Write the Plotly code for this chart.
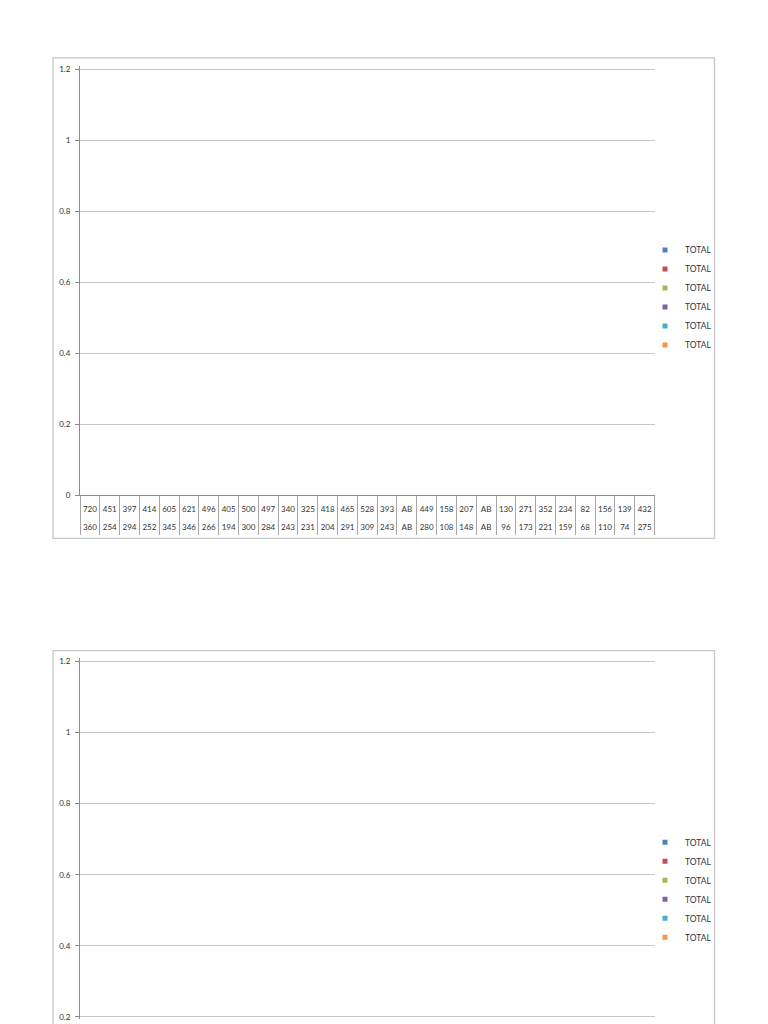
import plotly.graph_objects as go

# ---- data (the reference chart is an empty Excel chart: no plotted values) ----
row1_labels = ["720", "451", "397", "414", "605", "621", "496", "405", "500", "497",
               "340", "325", "418", "465", "528", "393", "AB", "449", "158", "207",
               "AB", "130", "271", "352", "234", "82", "156", "139", "432"]
row2_labels = ["360", "254", "294", "252", "345", "346", "266", "194", "300", "284",
               "243", "231", "204", "291", "309", "243", "AB", "280", "108", "148",
               "AB", "96", "173", "221", "159", "68", "110", "74", "275"]
series_names = ["TOTAL", "TOTAL", "TOTAL", "TOTAL", "TOTAL", "TOTAL"]
series_colors = ["#4F81BD", "#C0504D", "#9BBB59", "#8064A2", "#4BACC6", "#F79646"]
series_values = [
    [None] * len(row1_labels),
    [None] * len(row1_labels),
    [None] * len(row1_labels),
    [None] * len(row1_labels),
    [None] * len(row1_labels),
    [None] * len(row1_labels),
]
y_tickvals = [0, 0.2, 0.4, 0.6, 0.8, 1.0, 1.2]
y_ticktext = ["0", "0.2", "0.4", "0.6", "0.8", "1", "1.2"]

# ---- layout geometry ----
W, H = 768, 1024
VS = 0.9952                       # observed vertical compression of the photographed page
def px_x(v): return v / W
def px_y(v): return 1 - (v / VS) / H

positions = list(range(len(row1_labels)))
boundaries = [i - 0.5 for i in range(len(row1_labels) + 1)]

FONT = "Lato"
TXT = "#333333"
GRID = "#c6c6c6"
AXIS = "#8c8c8c"

fig = go.Figure()
for xa, ya, lg in [("x", "y", "legend"), ("x2", "y2", "legend2")]:
    for name, color, vals in zip(series_names, series_colors, series_values):
        fig.add_trace(go.Scatter(
            x=positions, y=vals, name=name, mode="markers",
            marker=dict(symbol="square", size=5, color=color),
            xaxis=xa, yaxis=ya, legend=lg, showlegend=True,
        ))
# carrier for the second row of category labels
fig.add_trace(go.Scatter(x=positions, y=[None] * len(positions), xaxis="x3", yaxis="y",
                         mode="markers", showlegend=False, hoverinfo="skip"))

Y0_TOP, Y12_TOP, Y12_BOT = 494.3, 67.3, 661.0   # reference pixel rows
PXU = (Y0_TOP - Y12_TOP) / 1.2                   # reference pixels per unit
TOP = 1.21
x_dom = [px_x(80), px_x(654.5)]
top_dom = [px_y(Y0_TOP), px_y(Y0_TOP - TOP * PXU)]
bot_dom = [0, px_y(Y12_BOT - (TOP - 1.2) * PXU)]
bot_low = 1.2 - (H * VS - Y12_BOT) / PXU

tickfont = dict(family=FONT, size=8, color=TXT)
yaxis_common = dict(
    tickmode="array", tickvals=y_tickvals, ticktext=y_ticktext,
    ticks="outside", ticklen=4, tickcolor=AXIS, tickwidth=1,
    showline=True, linecolor=AXIS, linewidth=1,
    showgrid=True, gridcolor=GRID, gridwidth=1, zeroline=False,
    ticklabelstandoff=3, tickfont=tickfont,
)

fig.update_layout(
    width=W, height=H, margin=dict(l=0, r=0, t=0, b=0),
    paper_bgcolor="white", plot_bgcolor="white",
    font=dict(family=FONT, color=TXT),
    xaxis=dict(
        domain=x_dom, anchor="y", range=[-0.5, len(row1_labels) - 0.5],
        tickmode="array", tickvals=positions, ticktext=row1_labels,
        ticks="", showline=True, linecolor=AXIS, linewidth=1,
        showgrid=False, zeroline=False, ticklabelstandoff=6,
        tickfont=tickfont,
        minor=dict(tickmode="array", tickvals=boundaries, ticks="outside",
                   ticklen=39, tickcolor="#a6a6a6", tickwidth=1, showgrid=False),
    ),
    xaxis3=dict(
        overlaying="x", anchor="y", side="bottom", matches="x",
        tickmode="array", tickvals=positions, ticktext=row2_labels,
        ticks="", showline=False, showgrid=False, zeroline=False,
        ticklabelstandoff=26, tickfont=tickfont,
    ),
    yaxis=dict(domain=top_dom, anchor="x", range=[0, TOP], **yaxis_common),
    xaxis2=dict(
        domain=x_dom, anchor="y2", range=[-0.5, len(row1_labels) - 0.5],
        showline=False, showticklabels=False, ticks="", showgrid=False, zeroline=False,
    ),
    yaxis2=dict(domain=bot_dom, anchor="x2", range=[bot_low, TOP], **yaxis_common),
    legend=dict(
        x=px_x(645), xanchor="left", y=px_y(296), yanchor="middle",
        font=dict(family=FONT, size=8.5, color=TXT), bgcolor="rgba(0,0,0,0)",
        itemclick=False, itemdoubleclick=False,
    ),
    legend2=dict(
        x=px_x(645), xanchor="left", y=px_y(889.5), yanchor="middle",
        font=dict(family=FONT, size=8.5, color=TXT), bgcolor="rgba(0,0,0,0)",
        itemclick=False, itemdoubleclick=False,
    ),
    shapes=[
        dict(type="rect", xref="paper", yref="paper",
             x0=px_x(53), x1=px_x(714.5), y0=px_y(537.5), y1=px_y(56),
             line=dict(color="#c8c8c8", width=1.3), layer="below"),
        dict(type="rect", xref="paper", yref="paper",
             x0=px_x(53), x1=px_x(714.5), y0=-0.02, y1=px_y(650),
             line=dict(color="#c8c8c8", width=1.3), layer="below"),
    ],
    showlegend=True,
)

fig.write_html("out.html", config={"displayModeBar": False},
               post_script="document.body.style.margin='0px';")
